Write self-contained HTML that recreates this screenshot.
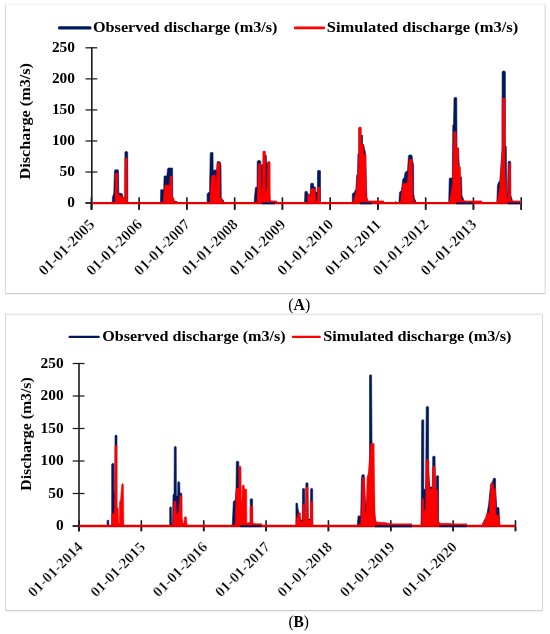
<!DOCTYPE html>
<html><head><meta charset="utf-8"><style>html,body{margin:0;padding:0;background:#fff;width:550px;height:634px;overflow:hidden}svg{display:block}text{font-family:'Liberation Serif',serif;font-weight:bold} .xl{stroke:#fff;stroke-width:0.3px}</style></head>
<body><svg width="550" height="634" viewBox="0 0 550 634" style="font-family:'Liberation Serif',serif;font-weight:bold;fill:#000"><line x1="5.3" y1="4.3" x2="545.2" y2="4.3" stroke="#f0f0f0" stroke-width="1"/>
<line x1="5.3" y1="293.7" x2="545.2" y2="293.7" stroke="#d0d0d0" stroke-width="1.2"/>
<line x1="5.3" y1="4.3" x2="5.3" y2="293.7" stroke="#d6d6d6" stroke-width="1"/>
<line x1="545.2" y1="4.3" x2="545.2" y2="293.7" stroke="#d6d6d6" stroke-width="1"/>
<line x1="59.5" y1="27.9" x2="90.0" y2="27.9" stroke="#00185c" stroke-width="3.2" stroke-linecap="round"/>
<line x1="295.2" y1="27.9" x2="323.8" y2="27.9" stroke="#ff0000" stroke-width="2.6" stroke-linecap="round"/>
<text x="93.0" y="31.6" font-size="14.7" textLength="184.5" lengthAdjust="spacingAndGlyphs">Observed discharge (m3/s)</text>
<text x="326.8" y="31.6" font-size="14.7" textLength="191.4" lengthAdjust="spacingAndGlyphs">Simulated discharge (m3/s)</text>
<text transform="translate(30.4,121.3) rotate(-90)" text-anchor="middle" font-size="15" textLength="116.5" lengthAdjust="spacingAndGlyphs">Discharge (m3/s)</text>
<line x1="91.8" y1="47.199999999999996" x2="91.8" y2="209.7" stroke="#1a1a1a" stroke-width="1.6"/>
<line x1="85.5" y1="203.10" x2="97.3" y2="203.10" stroke="#1a1a1a" stroke-width="1.25"/>
<text x="75.0" y="207.20" font-size="15.4" text-anchor="end">0</text>
<line x1="85.5" y1="172.04" x2="97.3" y2="172.04" stroke="#1a1a1a" stroke-width="1.25"/>
<text x="75.0" y="176.14" font-size="15.4" text-anchor="end">50</text>
<line x1="85.5" y1="140.98" x2="97.3" y2="140.98" stroke="#1a1a1a" stroke-width="1.25"/>
<text x="75.0" y="145.08" font-size="15.4" text-anchor="end">100</text>
<line x1="85.5" y1="109.92" x2="97.3" y2="109.92" stroke="#1a1a1a" stroke-width="1.25"/>
<text x="75.0" y="114.02" font-size="15.4" text-anchor="end">150</text>
<line x1="85.5" y1="78.86" x2="97.3" y2="78.86" stroke="#1a1a1a" stroke-width="1.25"/>
<text x="75.0" y="82.96" font-size="15.4" text-anchor="end">200</text>
<line x1="85.5" y1="47.80" x2="97.3" y2="47.80" stroke="#1a1a1a" stroke-width="1.25"/>
<text x="75.0" y="51.90" font-size="15.4" text-anchor="end">250</text>
<line x1="85.5" y1="203.1" x2="521.2" y2="203.1" stroke="#1a1a1a" stroke-width="1.5"/>
<line x1="91.40" y1="197.29999999999998" x2="91.40" y2="209.7" stroke="#1a1a1a" stroke-width="1.6"/>
<line x1="139.16" y1="197.29999999999998" x2="139.16" y2="209.7" stroke="#1a1a1a" stroke-width="1.6"/>
<line x1="186.91" y1="197.29999999999998" x2="186.91" y2="209.7" stroke="#1a1a1a" stroke-width="1.6"/>
<line x1="234.67" y1="197.29999999999998" x2="234.67" y2="209.7" stroke="#1a1a1a" stroke-width="1.6"/>
<line x1="282.42" y1="197.29999999999998" x2="282.42" y2="209.7" stroke="#1a1a1a" stroke-width="1.6"/>
<line x1="330.18" y1="197.29999999999998" x2="330.18" y2="209.7" stroke="#1a1a1a" stroke-width="1.6"/>
<line x1="377.93" y1="197.29999999999998" x2="377.93" y2="209.7" stroke="#1a1a1a" stroke-width="1.6"/>
<line x1="425.69" y1="197.29999999999998" x2="425.69" y2="209.7" stroke="#1a1a1a" stroke-width="1.6"/>
<line x1="473.44" y1="197.29999999999998" x2="473.44" y2="209.7" stroke="#1a1a1a" stroke-width="1.6"/>
<line x1="521.20" y1="197.29999999999998" x2="521.20" y2="209.7" stroke="#1a1a1a" stroke-width="1.6"/>
<text transform="translate(95.40,225.40) rotate(-45)" class="xl" text-anchor="end" font-size="15.3" textLength="72" lengthAdjust="spacingAndGlyphs">01-01-2005</text>
<text transform="translate(143.16,225.40) rotate(-45)" class="xl" text-anchor="end" font-size="15.3" textLength="72" lengthAdjust="spacingAndGlyphs">01-01-2006</text>
<text transform="translate(190.91,225.40) rotate(-45)" class="xl" text-anchor="end" font-size="15.3" textLength="72" lengthAdjust="spacingAndGlyphs">01-01-2007</text>
<text transform="translate(238.67,225.40) rotate(-45)" class="xl" text-anchor="end" font-size="15.3" textLength="72" lengthAdjust="spacingAndGlyphs">01-01-2008</text>
<text transform="translate(286.42,225.40) rotate(-45)" class="xl" text-anchor="end" font-size="15.3" textLength="72" lengthAdjust="spacingAndGlyphs">01-01-2009</text>
<text transform="translate(334.18,225.40) rotate(-45)" class="xl" text-anchor="end" font-size="15.3" textLength="72" lengthAdjust="spacingAndGlyphs">01-01-2010</text>
<text transform="translate(381.93,225.40) rotate(-45)" class="xl" text-anchor="end" font-size="15.3" textLength="72" lengthAdjust="spacingAndGlyphs">01-01-2011</text>
<text transform="translate(429.69,225.40) rotate(-45)" class="xl" text-anchor="end" font-size="15.3" textLength="72" lengthAdjust="spacingAndGlyphs">01-01-2012</text>
<text transform="translate(477.44,225.40) rotate(-45)" class="xl" text-anchor="end" font-size="15.3" textLength="72" lengthAdjust="spacingAndGlyphs">01-01-2013</text>
<text x="299.2" y="309.9" font-size="16.5" text-anchor="middle" textLength="22" lengthAdjust="spacingAndGlyphs"><tspan font-weight="normal">(</tspan>A<tspan font-weight="normal">)</tspan></text>
<line x1="91.8" y1="203.1" x2="521.2" y2="203.1" stroke="#00185c" stroke-width="2"/>
<polygon points="112.2,203.0 112.4,197.5 113.8,193.0 114.4,172.0 114.9,169.8 118.2,169.8 118.6,173.0 118.8,193.0 122.1,193.6 123.2,197.5 124.9,197.5 124.9,152.3 125.5,151.6 127.1,151.6 127.7,152.3 127.8,203.0" fill="#00185c" stroke="#00185c" stroke-width="0.6" stroke-linejoin="round"/>
<polygon points="160.4,203.0 160.7,189.7 162.9,189.7 163.6,191.0 164.1,175.9 166.8,175.9 167.5,169.2 168.0,168.0 172.6,168.0 172.8,199.2 173.2,200.8 177.1,201.6 177.1,203.0" fill="#00185c" stroke="#00185c" stroke-width="0.6" stroke-linejoin="round"/>
<polygon points="207.1,203.0 207.1,193.7 209.5,191.8 210.2,153.0 210.6,152.6 213.0,152.6 213.2,171.0 214.2,170.0 216.1,170.0 216.6,172.0 217.2,162.0 217.6,161.5 220.3,162.0 221.0,165.3 221.3,198.0 223.7,200.8 224.0,203.0" fill="#00185c" stroke="#00185c" stroke-width="0.6" stroke-linejoin="round"/>
<polygon points="254.1,203.0 254.4,198.5 255.4,187.6 257.0,187.1 257.2,161.5 258.0,160.4 260.0,160.4 260.8,161.5 261.0,164.9 263.1,164.9 264.8,155.2 266.3,155.2 266.7,163.0 267.8,163.0 268.0,165.0 270.2,199.9 271.5,203.0" fill="#00185c" stroke="#00185c" stroke-width="0.6" stroke-linejoin="round"/>
<polygon points="304.5,203.0 304.9,191.8 305.2,191.4 307.3,191.4 307.8,194.2 310.3,194.2 310.6,183.8 311.1,183.3 313.4,183.3 313.9,187.1 315.3,187.1 315.8,192.3 317.3,192.3 317.5,171.0 317.9,170.4 320.2,170.4 320.5,171.0 320.5,203.0" fill="#00185c" stroke="#00185c" stroke-width="0.6" stroke-linejoin="round"/>
<polygon points="352.3,203.0 352.3,193.7 353.9,192.9 355.9,188.9 356.7,175.5 357.5,173.9 357.9,155.0 357.9,153.9 358.8,153.9 358.8,128.0 361.0,135.3 362.6,135.3 362.6,144.1 363.6,144.4 365.8,154.5 366.3,180.0 366.9,197.6 367.5,201.5 371.5,201.5 372.0,203.0" fill="#00185c" stroke="#00185c" stroke-width="0.6" stroke-linejoin="round"/>
<polygon points="395.2,203.0 395.7,201.3 396.2,203.0 399.0,203.0 399.0,200.8 399.5,192.3 401.4,190.4 402.8,179.1 404.2,177.6 405.1,172.4 407.5,170.5 408.4,156.4 409.0,155.0 411.6,155.0 412.2,156.5 412.7,161.1 413.6,165.0 413.7,193.2 414.3,198.0 415.5,200.8 416.5,203.0" fill="#00185c" stroke="#00185c" stroke-width="0.6" stroke-linejoin="round"/>
<polygon points="448.7,203.0 449.2,179.0 449.7,178.0 452.3,178.0 452.8,125.0 453.5,124.5 454.0,98.3 454.6,97.4 456.3,97.4 456.8,98.3 457.0,148.0 458.5,148.2 459.0,160.0 460.0,177.0 461.5,177.0 462.0,195.4 463.6,199.5 465.0,203.0" fill="#00185c" stroke="#00185c" stroke-width="0.6" stroke-linejoin="round"/>
<polygon points="496.8,203.0 497.4,185.6 498.6,182.1 499.8,180.9 501.0,164.3 502.0,150.0 502.1,72.0 503.0,71.0 504.6,71.0 505.4,72.0 505.4,145.4 506.3,146.6 506.5,170.2 506.9,193.9 507.6,193.0 508.1,162.0 508.7,161.2 510.4,161.2 510.8,163.0 510.8,195.1 512.2,199.8 513.0,203.0" fill="#00185c" stroke="#00185c" stroke-width="0.6" stroke-linejoin="round"/>
<polygon points="114.9,203.0 115.5,173.1 117.7,173.1 117.7,192.0 119.3,195.2 122.1,196.4 124.5,198.5 124.9,158.2 127.1,158.2 127.3,203.0" fill="#ff0000" stroke="#ff0000" stroke-width="0.5" stroke-linejoin="round"/>
<polygon points="163.3,203.0 163.7,196.0 164.9,185.0 169.6,185.0 170.0,175.9 172.0,175.9 172.2,197.6 173.9,198.0 174.7,203.0" fill="#ff0000" stroke="#ff0000" stroke-width="0.5" stroke-linejoin="round"/>
<polygon points="209.9,203.0 210.4,192.3 211.4,176.7 212.3,175.3 215.6,175.3 216.1,191.4 217.0,163.4 218.0,163.0 220.0,163.0 220.2,196.6 222.7,200.8 223.0,203.0" fill="#ff0000" stroke="#ff0000" stroke-width="0.5" stroke-linejoin="round"/>
<polygon points="257.0,203.0 258.4,164.0 259.0,163.5 260.5,163.5 261.0,164.5 261.0,194.2 262.2,187.6 262.9,151.8 263.5,151.0 265.0,151.0 265.5,152.0 265.5,192.3 266.9,190.0 267.6,162.5 268.2,161.6 269.7,161.6 270.2,162.5 270.2,201.0 270.5,203.0" fill="#ff0000" stroke="#ff0000" stroke-width="0.5" stroke-linejoin="round"/>
<polygon points="307.3,203.0 307.8,194.7 310.5,194.7 310.9,189.0 311.6,188.5 314.9,188.5 315.3,192.3 315.8,201.0 317.3,201.0 317.7,187.1 320.0,187.1 320.1,203.0" fill="#ff0000" stroke="#ff0000" stroke-width="0.5" stroke-linejoin="round"/>
<polygon points="353.4,203.0 353.9,199.2 355.9,192.9 357.1,181.0 358.3,166.8 358.7,155.0 358.8,127.5 359.3,127.1 361.0,127.1 361.4,128.0 361.4,144.4 363.6,144.4 363.6,154.5 365.8,154.5 366.2,180.3 366.5,194.5 366.9,197.6 367.7,199.6 368.0,201.0 367.0,203.0" fill="#ff0000" stroke="#ff0000" stroke-width="0.5" stroke-linejoin="round"/>
<polygon points="400.4,203.0 402.8,183.8 407.5,182.8 408.9,161.1 409.5,159.2 411.8,159.2 412.4,161.0 412.6,177.2 412.9,196.1 414.2,201.5 414.6,203.0" fill="#ff0000" stroke="#ff0000" stroke-width="0.5" stroke-linejoin="round"/>
<polygon points="449.5,203.0 449.5,201.8 451.0,193.3 452.4,184.8 453.1,160.0 453.7,132.0 456.1,131.6 456.9,147.2 458.4,148.2 458.4,165.7 460.5,167.1 460.9,189.8 461.2,197.6 461.5,200.0 463.7,200.0 464.0,203.0" fill="#ff0000" stroke="#ff0000" stroke-width="0.5" stroke-linejoin="round"/>
<polygon points="496.6,203.0 497.5,199.0 499.7,188.2 501.2,164.6 502.1,150.0 502.1,98.1 504.9,98.1 505.1,169.0 505.3,173.8 506.4,188.2 506.9,197.4 507.5,198.6 508.2,198.0 508.7,163.5 510.4,163.5 510.8,198.6 511.5,203.0" fill="#ff0000" stroke="#ff0000" stroke-width="0.5" stroke-linejoin="round"/>
<line x1="91.8" y1="203.1" x2="521.2" y2="203.1" stroke="#e60000" stroke-width="2.3"/>
<line x1="262" y1="203.29999999999998" x2="275" y2="203.29999999999998" stroke="#00185c" stroke-width="1.9"/>
<line x1="270" y1="201.4" x2="277" y2="201.4" stroke="#ff0000" stroke-width="1.5"/>
<line x1="360" y1="203.29999999999998" x2="372" y2="203.29999999999998" stroke="#00185c" stroke-width="1.9"/>
<line x1="366" y1="201.4" x2="384" y2="201.4" stroke="#ff0000" stroke-width="1.5"/>
<line x1="456" y1="203.29999999999998" x2="473" y2="203.29999999999998" stroke="#00185c" stroke-width="1.9"/>
<line x1="461" y1="201.4" x2="482" y2="201.4" stroke="#ff0000" stroke-width="1.5"/>
<line x1="508" y1="203.29999999999998" x2="520" y2="203.29999999999998" stroke="#00185c" stroke-width="1.9"/>
<line x1="510" y1="201.4" x2="520" y2="201.4" stroke="#ff0000" stroke-width="1.5"/>
<line x1="91.40" y1="204.2" x2="91.40" y2="209.7" stroke="#1a1a1a" stroke-width="1.6"/>
<line x1="139.16" y1="204.2" x2="139.16" y2="209.7" stroke="#1a1a1a" stroke-width="1.6"/>
<line x1="186.91" y1="204.2" x2="186.91" y2="209.7" stroke="#1a1a1a" stroke-width="1.6"/>
<line x1="234.67" y1="204.2" x2="234.67" y2="209.7" stroke="#1a1a1a" stroke-width="1.6"/>
<line x1="282.42" y1="204.2" x2="282.42" y2="209.7" stroke="#1a1a1a" stroke-width="1.6"/>
<line x1="330.18" y1="204.2" x2="330.18" y2="209.7" stroke="#1a1a1a" stroke-width="1.6"/>
<line x1="377.93" y1="204.2" x2="377.93" y2="209.7" stroke="#1a1a1a" stroke-width="1.6"/>
<line x1="425.69" y1="204.2" x2="425.69" y2="209.7" stroke="#1a1a1a" stroke-width="1.6"/>
<line x1="473.44" y1="204.2" x2="473.44" y2="209.7" stroke="#1a1a1a" stroke-width="1.6"/>
<line x1="521.20" y1="204.2" x2="521.20" y2="209.7" stroke="#1a1a1a" stroke-width="1.6"/>
<line x1="5.5" y1="314.2" x2="542.5" y2="314.2" stroke="#d9d9d9" stroke-width="1"/>
<line x1="5.5" y1="610.6" x2="542.5" y2="610.6" stroke="#d0d0d0" stroke-width="1.2"/>
<line x1="5.5" y1="314.2" x2="5.5" y2="610.6" stroke="#d6d6d6" stroke-width="1"/>
<line x1="542.5" y1="314.2" x2="542.5" y2="610.6" stroke="#d6d6d6" stroke-width="1"/>
<line x1="69.6" y1="336.9" x2="98.7" y2="336.9" stroke="#00185c" stroke-width="2.2" stroke-linecap="round"/>
<line x1="292.90000000000003" y1="336.9" x2="319.79999999999995" y2="336.9" stroke="#ff0000" stroke-width="2.2" stroke-linecap="round"/>
<text x="102.2" y="340.6" font-size="14.7" textLength="183.5" lengthAdjust="spacingAndGlyphs">Observed discharge (m3/s)</text>
<text x="323.2" y="340.6" font-size="14.7" textLength="188.3" lengthAdjust="spacingAndGlyphs">Simulated discharge (m3/s)</text>
<text transform="translate(31.0,434.0) rotate(-90)" text-anchor="middle" font-size="15" textLength="113.5" lengthAdjust="spacingAndGlyphs">Discharge (m3/s)</text>
<line x1="79.0" y1="362.9" x2="79.0" y2="531.2" stroke="#1a1a1a" stroke-width="1.6"/>
<line x1="72.7" y1="526.00" x2="84.5" y2="526.00" stroke="#1a1a1a" stroke-width="1.25"/>
<text x="63.6" y="530.10" font-size="15.4" text-anchor="end">0</text>
<line x1="72.7" y1="493.50" x2="84.5" y2="493.50" stroke="#1a1a1a" stroke-width="1.25"/>
<text x="63.6" y="497.60" font-size="15.4" text-anchor="end">50</text>
<line x1="72.7" y1="461.00" x2="84.5" y2="461.00" stroke="#1a1a1a" stroke-width="1.25"/>
<text x="63.6" y="465.10" font-size="15.4" text-anchor="end">100</text>
<line x1="72.7" y1="428.50" x2="84.5" y2="428.50" stroke="#1a1a1a" stroke-width="1.25"/>
<text x="63.6" y="432.60" font-size="15.4" text-anchor="end">150</text>
<line x1="72.7" y1="396.00" x2="84.5" y2="396.00" stroke="#1a1a1a" stroke-width="1.25"/>
<text x="63.6" y="400.10" font-size="15.4" text-anchor="end">200</text>
<line x1="72.7" y1="363.50" x2="84.5" y2="363.50" stroke="#1a1a1a" stroke-width="1.25"/>
<text x="63.6" y="367.60" font-size="15.4" text-anchor="end">250</text>
<line x1="72.7" y1="526.0" x2="515.5" y2="526.0" stroke="#1a1a1a" stroke-width="1.5"/>
<line x1="79.00" y1="520.2" x2="79.00" y2="531.2" stroke="#1a1a1a" stroke-width="1.6"/>
<line x1="141.36" y1="520.2" x2="141.36" y2="531.2" stroke="#1a1a1a" stroke-width="1.6"/>
<line x1="203.71" y1="520.2" x2="203.71" y2="531.2" stroke="#1a1a1a" stroke-width="1.6"/>
<line x1="266.07" y1="520.2" x2="266.07" y2="531.2" stroke="#1a1a1a" stroke-width="1.6"/>
<line x1="328.43" y1="520.2" x2="328.43" y2="531.2" stroke="#1a1a1a" stroke-width="1.6"/>
<line x1="390.79" y1="520.2" x2="390.79" y2="531.2" stroke="#1a1a1a" stroke-width="1.6"/>
<line x1="453.14" y1="520.2" x2="453.14" y2="531.2" stroke="#1a1a1a" stroke-width="1.6"/>
<line x1="515.50" y1="520.2" x2="515.50" y2="531.2" stroke="#1a1a1a" stroke-width="1.6"/>
<text transform="translate(83.70,547.90) rotate(-45)" class="xl" text-anchor="end" font-size="15.0" textLength="70.5" lengthAdjust="spacingAndGlyphs">01-01-2014</text>
<text transform="translate(146.06,547.90) rotate(-45)" class="xl" text-anchor="end" font-size="15.0" textLength="70.5" lengthAdjust="spacingAndGlyphs">01-01-2015</text>
<text transform="translate(208.41,547.90) rotate(-45)" class="xl" text-anchor="end" font-size="15.0" textLength="70.5" lengthAdjust="spacingAndGlyphs">01-01-2016</text>
<text transform="translate(270.77,547.90) rotate(-45)" class="xl" text-anchor="end" font-size="15.0" textLength="70.5" lengthAdjust="spacingAndGlyphs">01-01-2017</text>
<text transform="translate(333.13,547.90) rotate(-45)" class="xl" text-anchor="end" font-size="15.0" textLength="70.5" lengthAdjust="spacingAndGlyphs">01-01-2018</text>
<text transform="translate(395.49,547.90) rotate(-45)" class="xl" text-anchor="end" font-size="15.0" textLength="70.5" lengthAdjust="spacingAndGlyphs">01-01-2019</text>
<text transform="translate(457.84,547.90) rotate(-45)" class="xl" text-anchor="end" font-size="15.0" textLength="70.5" lengthAdjust="spacingAndGlyphs">01-01-2020</text>
<text x="298.7" y="626.7" font-size="16" text-anchor="middle" textLength="20.6" lengthAdjust="spacingAndGlyphs"><tspan font-weight="normal">(</tspan>B<tspan font-weight="normal">)</tspan></text>
<line x1="79.0" y1="526.0" x2="515.5" y2="526.0" stroke="#00185c" stroke-width="2"/>
<polygon points="107.1,526.0 107.1,520.6 107.5,520.1 108.4,520.1 108.8,520.6 108.8,526.0" fill="#00185c" stroke="#00185c" stroke-width="0.6" stroke-linejoin="round"/>
<polygon points="111.7,526.0 111.7,464.0 112.2,463.5 113.4,463.5 113.9,464.0 113.9,492.3 114.8,492.3 115.0,436.0 115.5,435.1 116.6,435.1 117.0,436.0 117.0,526.0" fill="#00185c" stroke="#00185c" stroke-width="0.6" stroke-linejoin="round"/>
<polygon points="169.7,526.0 169.7,507.5 170.2,506.9 171.0,506.9 171.4,507.5 171.6,524.0 172.5,524.0 173.0,494.6 174.0,494.0 174.3,447.0 174.8,446.4 175.8,446.4 176.2,447.0 176.4,496.0 177.6,496.0 177.8,482.5 178.3,481.8 179.3,481.8 179.7,482.5 180.0,493.2 181.8,493.2 182.0,519.2 182.5,526.0" fill="#00185c" stroke="#00185c" stroke-width="0.6" stroke-linejoin="round"/>
<polygon points="232.1,526.0 232.5,520.0 233.3,501.6 235.3,499.9 236.0,489.2 236.3,462.0 236.8,461.3 238.3,461.3 238.8,462.0 239.0,490.0 240.5,520.0 241.5,525.0 250.2,525.0 250.2,499.3 250.7,498.8 252.1,498.8 252.6,499.3 252.6,524.5 261.7,525.5 262.0,526.0" fill="#00185c" stroke="#00185c" stroke-width="0.6" stroke-linejoin="round"/>
<polygon points="295.9,526.0 295.9,503.6 296.4,503.1 297.2,503.1 297.6,504.0 298.0,508.8 299.0,512.6 300.5,520.0 302.3,520.0 302.5,489.0 303.0,488.4 304.2,488.4 304.7,489.0 304.9,519.0 305.7,519.0 305.9,483.4 306.4,482.8 307.5,482.8 308.0,483.4 308.2,519.0 310.4,519.0 310.6,489.0 311.1,488.4 312.2,488.4 312.7,489.0 312.7,526.0" fill="#00185c" stroke="#00185c" stroke-width="0.6" stroke-linejoin="round"/>
<polygon points="357.1,526.0 358.1,515.9 360.7,515.9 361.4,478.3 362.1,474.8 364.2,474.8 364.6,486.8 365.6,503.8 366.5,504.5 368.0,490.0 369.5,460.0 369.5,375.5 370.0,374.8 371.1,374.8 371.6,375.5 372.0,440.0 374.9,516.6 376.3,523.7 390.5,525.1 391.0,526.0" fill="#00185c" stroke="#00185c" stroke-width="0.6" stroke-linejoin="round"/>
<polygon points="420.9,526.0 421.2,512.4 421.7,420.5 422.2,419.8 423.4,419.8 423.8,420.5 423.8,489.3 425.6,489.3 425.8,470.0 426.2,407.3 426.7,406.6 428.2,406.6 428.6,407.3 428.6,469.2 429.8,487.0 432.5,487.0 432.7,456.8 433.2,456.2 434.6,456.2 435.1,456.8 435.3,489.0 436.2,489.0 436.3,476.3 436.8,475.7 438.2,475.7 438.6,476.3 438.6,521.3 440.0,524.8 451.0,524.8 451.0,526.0" fill="#00185c" stroke="#00185c" stroke-width="0.6" stroke-linejoin="round"/>
<polygon points="482.4,526.0 482.7,524.1 484.4,519.7 486.0,519.1 488.5,505.0 490.5,486.0 491.0,483.8 492.8,481.0 493.2,478.8 493.7,478.2 495.1,478.2 495.6,478.8 495.6,488.7 496.3,500.0 496.8,508.0 497.3,507.5 498.6,507.5 499.0,508.0 499.3,515.0 499.8,525.2 500.2,526.0" fill="#00185c" stroke="#00185c" stroke-width="0.6" stroke-linejoin="round"/>
<polygon points="111.7,526.0 111.7,514.0 113.9,513.2 114.5,509.0 115.0,446.0 115.5,445.4 116.6,445.4 117.0,446.0 117.0,508.0 118.2,508.0 118.6,523.6 119.2,523.6 119.5,501.9 120.5,500.0 121.7,484.5 122.2,483.7 123.0,483.7 123.4,484.5 123.9,523.6 124.2,526.0" fill="#ff0000" stroke="#ff0000" stroke-width="0.5" stroke-linejoin="round"/>
<polygon points="172.8,526.0 173.0,521.6 174.0,501.2 175.9,501.2 176.4,513.5 177.5,514.0 178.7,511.0 179.7,496.5 180.1,495.5 181.8,495.5 182.0,518.2 183.0,523.0 184.0,523.0 184.4,517.0 186.3,516.8 187.2,525.0 187.5,526.0" fill="#ff0000" stroke="#ff0000" stroke-width="0.5" stroke-linejoin="round"/>
<polygon points="235.3,526.0 235.3,521.1 236.0,489.2 236.5,488.1 238.9,488.1 238.9,467.0 239.4,466.2 240.6,466.2 241.0,467.0 241.3,500.0 242.0,499.0 242.2,486.0 242.7,485.2 244.1,485.2 244.6,489.3 246.7,489.3 246.9,523.0 250.0,522.5 250.2,506.0 252.6,506.0 252.9,523.6 261.7,524.2 262.0,526.0" fill="#ff0000" stroke="#ff0000" stroke-width="0.5" stroke-linejoin="round"/>
<polygon points="296.1,526.0 296.1,520.1 298.5,513.0 300.4,513.0 300.8,522.0 302.6,522.0 302.8,504.6 304.7,504.1 304.9,518.5 305.9,518.5 305.9,487.5 308.0,487.0 308.2,520.0 310.5,520.0 310.6,501.6 312.7,501.2 312.9,526.0" fill="#ff0000" stroke="#ff0000" stroke-width="0.5" stroke-linejoin="round"/>
<polygon points="357.8,526.0 357.8,524.4 360.7,524.0 361.8,501.0 362.4,478.3 362.8,477.6 364.6,477.6 365.2,515.2 366.0,512.0 367.1,476.9 368.5,472.6 370.6,444.3 371.3,443.5 374.1,443.5 374.9,510.9 375.6,520.9 376.3,522.0 385.0,522.5 390.5,524.0 391.0,526.0" fill="#ff0000" stroke="#ff0000" stroke-width="0.5" stroke-linejoin="round"/>
<polygon points="421.5,526.0 421.5,524.0 422.1,498.8 423.6,498.8 423.8,510.6 425.6,510.0 426.2,460.0 426.6,459.5 428.4,459.5 428.6,460.0 429.2,484.6 429.8,489.3 432.1,489.3 432.7,467.0 433.2,466.2 434.6,466.2 435.1,467.0 435.7,489.3 437.5,490.0 438.0,521.3 440.0,523.4 451.0,523.4 451.0,526.0" fill="#ff0000" stroke="#ff0000" stroke-width="0.5" stroke-linejoin="round"/>
<polygon points="482.2,526.0 482.7,523.0 484.4,521.3 486.6,514.1 487.1,513.0 488.8,513.0 489.3,515.2 489.9,497.6 490.4,496.5 491.0,483.2 491.5,482.7 493.2,482.7 493.8,489.3 495.6,489.3 496.0,513.0 496.5,515.2 499.3,515.2 499.8,525.2 500.0,526.0" fill="#ff0000" stroke="#ff0000" stroke-width="0.5" stroke-linejoin="round"/>
<line x1="79.0" y1="526.0" x2="515.5" y2="526.0" stroke="#e60000" stroke-width="2.3"/>
<line x1="240" y1="526.2" x2="261.5" y2="526.2" stroke="#00185c" stroke-width="1.9"/>
<line x1="247" y1="524.3" x2="262" y2="524.3" stroke="#ff0000" stroke-width="1.5"/>
<line x1="375" y1="526.2" x2="412" y2="526.2" stroke="#00185c" stroke-width="1.9"/>
<line x1="376" y1="524.3" x2="412" y2="524.3" stroke="#ff0000" stroke-width="1.5"/>
<line x1="439" y1="526.2" x2="467" y2="526.2" stroke="#00185c" stroke-width="1.9"/>
<line x1="438" y1="524.3" x2="467" y2="524.3" stroke="#ff0000" stroke-width="1.5"/>
<line x1="79.00" y1="527.1" x2="79.00" y2="531.2" stroke="#1a1a1a" stroke-width="1.6"/>
<line x1="141.36" y1="527.1" x2="141.36" y2="531.2" stroke="#1a1a1a" stroke-width="1.6"/>
<line x1="203.71" y1="527.1" x2="203.71" y2="531.2" stroke="#1a1a1a" stroke-width="1.6"/>
<line x1="266.07" y1="527.1" x2="266.07" y2="531.2" stroke="#1a1a1a" stroke-width="1.6"/>
<line x1="328.43" y1="527.1" x2="328.43" y2="531.2" stroke="#1a1a1a" stroke-width="1.6"/>
<line x1="390.79" y1="527.1" x2="390.79" y2="531.2" stroke="#1a1a1a" stroke-width="1.6"/>
<line x1="453.14" y1="527.1" x2="453.14" y2="531.2" stroke="#1a1a1a" stroke-width="1.6"/>
<line x1="515.50" y1="527.1" x2="515.50" y2="531.2" stroke="#1a1a1a" stroke-width="1.6"/></svg></body></html>
